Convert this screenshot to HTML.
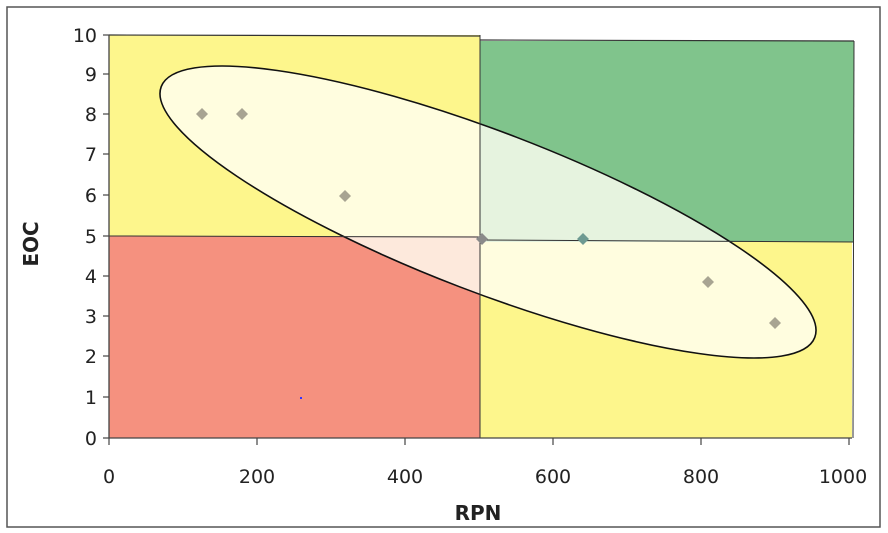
<!DOCTYPE html>
<html><head><style>
html,body{margin:0;padding:0;background:#fff;width:888px;height:533px;overflow:hidden}
</style></head><body>
<svg width="888" height="533" xmlns="http://www.w3.org/2000/svg" font-family="DejaVu Sans, Liberation Sans, sans-serif">
<rect x="7" y="7" width="873" height="520" fill="#fff" stroke="#555" stroke-width="1.5"/>
<rect x="109" y="35" width="371" height="201" fill="#fdf68c"/>
<rect x="480" y="41" width="374" height="201" fill="#80c48c"/>
<rect x="109" y="236" width="371" height="202" fill="#f5917f"/>
<rect x="480" y="242" width="372" height="196" fill="#fdf68c"/>
<ellipse cx="488" cy="212" rx="350" ry="80" transform="rotate(21 488 212)" fill="#fffff4" fill-opacity="0.8" stroke="#111" stroke-width="1.6"/>
<line x1="109" y1="35" x2="480" y2="36" stroke="#333" stroke-width="1.2"/>
<line x1="480" y1="40" x2="854" y2="41" stroke="#333" stroke-width="1.2"/>
<line x1="480" y1="35" x2="480" y2="438" stroke="#333" stroke-width="1"/>
<line x1="109" y1="236" x2="480" y2="237" stroke="#333" stroke-width="1"/>
<line x1="480" y1="240" x2="854" y2="242" stroke="#333" stroke-width="1"/>
<line x1="854" y1="41" x2="853" y2="438" stroke="#333" stroke-width="1"/>
<line x1="109" y1="35" x2="109" y2="438" stroke="#444" stroke-width="1.3"/>
<line x1="109" y1="438" x2="852" y2="438" stroke="#444" stroke-width="1.3"/>
<g stroke="#444" stroke-width="1.2">
<line x1="103" y1="35" x2="109" y2="35"/><line x1="103" y1="74" x2="109" y2="74"/><line x1="103" y1="114" x2="109" y2="114"/><line x1="103" y1="154" x2="109" y2="154"/><line x1="103" y1="195" x2="109" y2="195"/><line x1="103" y1="236" x2="109" y2="236"/><line x1="103" y1="276" x2="109" y2="276"/><line x1="103" y1="316" x2="109" y2="316"/><line x1="103" y1="356" x2="109" y2="356"/><line x1="103" y1="397" x2="109" y2="397"/><line x1="103" y1="438" x2="109" y2="438"/>
<line x1="109" y1="438" x2="109" y2="445"/><line x1="257" y1="438" x2="257" y2="445"/><line x1="405" y1="438" x2="405" y2="445"/><line x1="553" y1="438" x2="553" y2="445"/><line x1="701" y1="438" x2="701" y2="445"/><line x1="849" y1="438" x2="849" y2="445"/>
</g>
<g font-size="19" fill="#222" text-anchor="end">
<text x="97" y="42">10</text><text x="97" y="81">9</text><text x="97" y="121">8</text><text x="97" y="161">7</text><text x="97" y="202">6</text><text x="97" y="243">5</text><text x="97" y="283">4</text><text x="97" y="323">3</text><text x="97" y="363">2</text><text x="97" y="404">1</text><text x="97" y="445">0</text>
</g>
<g font-size="19" fill="#222" text-anchor="middle">
<text x="109" y="483">0</text><text x="257" y="483">200</text><text x="405" y="483">400</text><text x="553" y="483">600</text><text x="701" y="483">800</text><text x="843" y="483">1000</text>
</g>
<text x="478" y="520" font-size="20" font-weight="bold" text-anchor="middle" fill="#222">RPN</text>
<text transform="translate(38 244) rotate(-90)" font-size="20" font-weight="bold" text-anchor="middle" fill="#222">EOC</text>
<g fill="#a8a492">
<path d="M202 108l6 6-6 6-6-6z"/>
<path d="M242 108l6 6-6 6-6-6z"/>
<path d="M345 190l6 6-6 6-6-6z"/>
<path d="M482 233l6 6-6 6-6-6z" fill="#8a8a8a"/>
<path d="M583 233l6 6-6 6-6-6z" fill="#6e9a92"/>
<path d="M708 276l6 6-6 6-6-6z"/>
<path d="M775 317l6 6-6 6-6-6z"/>
</g>
<rect x="300" y="397" width="2" height="2" fill="#33f"/>
</svg>
</body></html>
